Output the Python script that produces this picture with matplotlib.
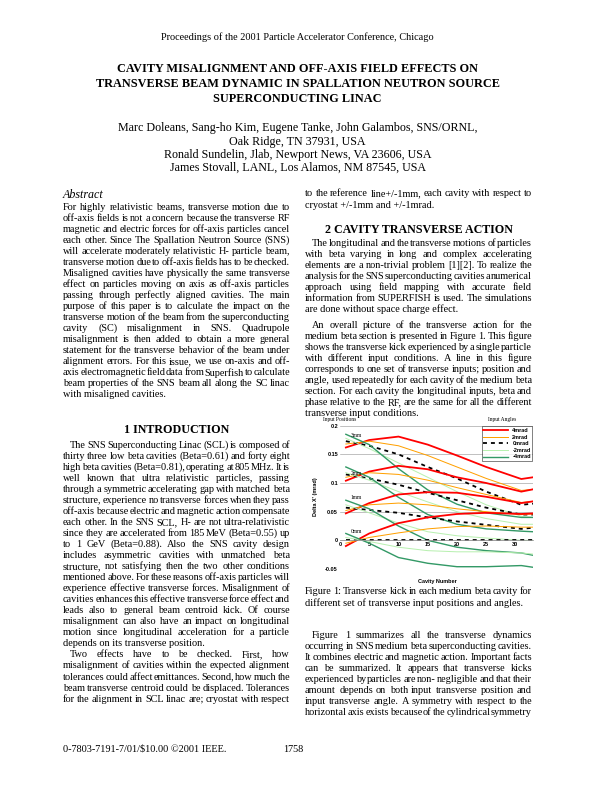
import matplotlib
matplotlib.use("Agg")
import matplotlib.pyplot as plt
from matplotlib.lines import Line2D

W, H = 595, 792
SERIF = "Liberation Serif"
SANS = "Liberation Sans"

# ---- chart data ----
cavity = [1, 5, 10, 15, 20, 25, 31, 33]
angles = ["4mrad", "2mrad", "0mrad", "-2mrad", "-4mrad"]
positions = ["3mm", "2mm", "1mm", "0mm"]

kick_3mm = {
    "4mrad": [0.162, 0.175, 0.181, 0.167, 0.148, 0.128, 0.107, 0.110],
    "2mrad": [0.168, 0.173, 0.165, 0.148, 0.128, 0.108, 0.087, 0.089],
    "0mrad": [0.173, 0.165, 0.150, 0.128, 0.108, 0.085, 0.062, 0.064],
    "-2mrad": [0.178, 0.160, 0.135, 0.110, 0.085, 0.062, 0.042, 0.040],
    "-4mrad": [0.185, 0.167, 0.125, 0.088, 0.063, 0.048, 0.040, 0.040],
}
kick_2mm = {
    "4mrad": [0.104, 0.120, 0.130, 0.124, 0.110, 0.100, 0.085, 0.089],
    "2mrad": [0.110, 0.118, 0.115, 0.105, 0.092, 0.080, 0.066, 0.068],
    "0mrad": [0.115, 0.108, 0.097, 0.083, 0.070, 0.057, 0.045, 0.045],
    "-2mrad": [0.118, 0.105, 0.085, 0.067, 0.050, 0.038, 0.028, 0.028],
    "-4mrad": [0.128, 0.110, 0.075, 0.045, 0.028, 0.020, 0.016, 0.015],
}
kick_1mm = {
    "4mrad": [0.047, 0.065, 0.080, 0.084, 0.083, 0.076, 0.065, 0.068],
    "2mrad": [0.052, 0.062, 0.065, 0.062, 0.055, 0.050, 0.045, 0.046],
    "0mrad": [0.057, 0.053, 0.048, 0.040, 0.033, 0.027, 0.020, 0.022],
    "-2mrad": [0.062, 0.048, 0.030, 0.015, 0.008, 0.004, 0.000, 0.000],
    "-4mrad": [0.070, 0.055, 0.025, 0.000, -0.012, -0.018, -0.022, -0.026],
}
kick_0mm = {
    "4mrad": [-0.010, 0.012, 0.030, 0.040, 0.046, 0.048, 0.046, 0.047],
    "2mrad": [-0.005, 0.005, 0.013, 0.020, 0.024, 0.025, 0.023, 0.023],
    "0mrad": [0.0, 0.0, 0.0, 0.0, 0.0, 0.0, 0.0, 0.0],
    "-2mrad": [0.005, -0.002, -0.012, -0.018, -0.020, -0.020, -0.022, -0.024],
    "-4mrad": [0.012, -0.005, -0.030, -0.040, -0.046, -0.046, -0.044, -0.047],
}
kicks = [kick_3mm, kick_2mm, kick_1mm, kick_0mm]
label_y = [0.183, 0.117, 0.074, 0.015]
yticks = [-0.05, 0, 0.05, 0.1, 0.15, 0.2]
ytick_labels = ["-0.05", "0", "0.05", "0.1", "0.15", "0.2"]

styles = {
    "4mrad": dict(color="#ff0000", lw=1.8),
    "2mrad": dict(color="#ffa000", lw=1.0),
    "0mrad": dict(color="black", lw=1.8, ls=(0, (2.2, 2.2))),
    "-2mrad": dict(color="#b8f0b0", lw=1.0),
    "-4mrad": dict(color="#339966", lw=1.4),
}

# ---- page text ----
header = "Proceedings of the 2001 Particle Accelerator Conference, Chicago"
title = ["CAVITY MISALIGNMENT AND OFF-AXIS FIELD EFFECTS ON",
         "TRANSVERSE BEAM DYNAMIC IN SPALLATION NEUTRON SOURCE",
         "SUPERCONDUCTING LINAC"]
authors = ["Marc Doleans, Sang-ho Kim, Eugene Tanke, John Galambos, SNS/ORNL,",
           "Oak Ridge, TN 37931, USA",
           "Ronald Sundelin, Jlab, Newport News, VA 23606, USA",
           "James Stovall, LANL, Los Alamos, NM 87545, USA"]
abstract = [
    "For highly relativistic beams, transverse motion due to",
    "off-axis fields is not a concern because the transverse RF",
    "magnetic and electric forces for off-axis particles cancel",
    "each other. Since The Spallation Neutron Source (SNS)",
    "will accelerate moderately relativistic H- particle beam,",
    "transverse motion due to off-axis fields has to be checked.",
    "Misaligned cavities have physically the same transverse",
    "effect on particles moving on axis as off-axis particles",
    "passing through perfectly aligned cavities. The main",
    "purpose of this paper is to calculate the impact on the",
    "transverse motion of the beam from the superconducting",
    "cavity (SC) misalignment in SNS. Quadrupole",
    "misalignment is then added to obtain a more general",
    "statement for the transverse behavior of the beam under",
    "alignment errors. For this issue, we use on-axis and off-",
    "axis electromagnetic field data from Superfish to calculate",
    "beam properties of the SNS beam all along the SC linac",
    "with misaligned cavities."]
intro1 = [
    "The SNS Superconducting Linac (SCL) is composed of",
    "thirty three low beta cavities (Beta=0.61) and forty eight",
    "high beta cavities (Beta=0.81), operating at 805 MHz. It is",
    "well known that ultra relativistic particles, passing",
    "through a symmetric accelerating gap with matched beta",
    "structure, experience no transverse forces when they pass",
    "off-axis because electric and magnetic action compensate",
    "each other. In the SNS SCL, H- are not ultra-relativistic",
    "since they are accelerated from 185 MeV (Beta=0.55) up",
    "to 1 GeV (Beta=0.88). Also the SNS cavity design",
    "includes asymmetric cavities with unmatched beta",
    "structure, not satisfying then the two other conditions",
    "mentioned above. For these reasons off-axis particles will",
    "experience effective transverse forces. Misalignment of",
    "cavities enhances this effective transverse force effect and",
    "leads also to general beam centroid kick. Of course",
    "misalignment can also have an impact on longitudinal",
    "motion since longitudinal acceleration for a particle",
    "depends on its transverse position."]
intro2 = [
    "Two effects have to be checked. First, how",
    "misalignment of cavities within the expected alignment",
    "tolerances could affect emittances. Second, how much the",
    "beam transverse centroid could be displaced. Tolerances",
    "for the alignment in SCL linac are; cryostat with respect"]
cont = ["to the reference line+/-1mm, each cavity with respect to",
        "cryostat +/-1mm and +/-1mrad."]
sec2a = [
    "The longitudinal and the transverse motions of particles",
    "with beta varying in long and complex accelerating",
    "elements are a non-trivial problem [1][2]. To realize the",
    "analysis for the SNS superconducting cavities a numerical",
    "approach using field mapping with accurate field",
    "information from SUPERFISH is used. The simulations",
    "are done without space charge effect."]
sec2b = [
    "An overall picture of the transverse action for the",
    "medium beta section is presented in Figure 1. This figure",
    "shows the transverse kick experienced by a single particle",
    "with different input conditions. A line in this figure",
    "corresponds to one set of transverse inputs; position and",
    "angle, used repeatedly for each cavity of the medium beta",
    "section. For each cavity the longitudinal inputs, beta and",
    "phase relative to the RF, are the same for all the different",
    "transverse input conditions."]
caption = ["Figure 1: Transverse kick in each medium beta cavity for",
           "different set of transverse input positions and angles."]
sec2c = [
    "Figure 1 summarizes all the transverse dynamics",
    "occurring in SNS medium beta superconducting cavities.",
    "It combines electric and magnetic action. Important facts",
    "can be summarized. It appears that transverse kicks",
    "experienced by particles are non- negligible and that their",
    "amount depends on both input transverse position and",
    "input transverse angle. A symmetry with respect to the",
    "horizontal axis exists because of the cylindrical symmetry"]

fig = plt.figure(figsize=(W / 72, H / 72), dpi=72)
fig.patch.set_facecolor("white")
renderer = fig.canvas.get_renderer()
FS = 10.2
LS = 11.05


def put(x, y, s, **kw):
    kw.setdefault("family", SERIF)
    kw.setdefault("fontsize", FS)
    kw.setdefault("va", "center")
    return fig.text(x / W, 1 - y / H, s, **kw)


def paragraph(lines, x0, x1, y0, indent=7, last_full=False):
    # justified lines, word by word
    for i, line in enumerate(lines):
        y = y0 + i * LS
        xs = x0 + (indent if i == 0 else 0)
        words = line.split()
        if (i == len(lines) - 1 and not last_full) or len(words) == 1:
            put(xs, y, line)
            continue
        texts = [put(xs, y, w) for w in words]
        widths = [t.get_window_extent(renderer).width for t in texts]
        gap = (x1 - xs - sum(widths)) / (len(words) - 1)
        x = xs
        for t, w in zip(texts, widths):
            t.set_x(x / W)
            x += w + gap


put(297.5, 37, header, ha="center")
for i, s in enumerate(title):
    put(297.5, 69 + i * 15, s, ha="center", fontsize=12.3, weight="bold")
for y, s in zip([128, 142, 155, 168], authors):
    put(297.5, y, s, ha="center", fontsize=12)

L0, L1, R0, R1 = 63, 290, 305, 532
put(L0, 195, "Abstract", fontsize=12, style="italic")
paragraph(abstract, L0, L1, 207, indent=0)
put((L0 + L1) / 2, 430, "1 INTRODUCTION", ha="center", fontsize=12, weight="bold")
paragraph(intro1, L0, L1, 445)
paragraph(intro2, L0, L1, 445 + 19 * LS, last_full=True)
put(L0, 749, "0-7803-7191-7/01/$10.00 \u00a92001 IEEE.")
put(283, 749, "1758")

paragraph(cont, R0, R1, 194, indent=0)
put((R0 + R1) / 2, 230, "2 CAVITY TRANSVERSE ACTION", ha="center", fontsize=12, weight="bold")
paragraph(sec2a, R0, R1, 243)
paragraph(sec2b, R0, R1, 325)
paragraph(caption, R0, R1, 592, indent=0)
paragraph(sec2c, R0, R1, 635, last_full=True)

# ---- the chart ----
ax = fig.add_axes([340 / W, 1 - 569 / H, (533 - 340) / W, (569 - 425.7) / H])
for grp in kicks:
    for a in angles:
        ax.plot(cavity, grp[a], **styles[a])
ax.set_xlim(0, 33)
ax.set_ylim(-0.05, 0.2)
ax.set_yticks(yticks)
ax.set_yticklabels(ytick_labels)
ax.set_xticks([0, 5, 10, 15, 20, 25, 30])
ax.yaxis.grid(True, color="#999999", lw=0.6)
ax.set_axisbelow(True)
for s in ["top", "right", "left"]:
    ax.spines[s].set_visible(False)
ax.spines["bottom"].set_position(("data", 0))
ax.spines["bottom"].set_color("#999999")
ax.tick_params(length=0, labelsize=5.5, pad=2)
for t in ax.get_xticklabels() + ax.get_yticklabels():
    t.set_family(SANS)
    t.set_weight("bold")
for p, yv in zip(positions, label_y):
    ax.text(1.8, yv, p, family=SERIF, fontsize=5.5, va="center")

handles = [Line2D([], [], **styles[a]) for a in angles]
leg = ax.legend(handles, angles, loc="upper right", frameon=True,
                fancybox=False, edgecolor="black", handlelength=4.5,
                borderpad=0.3, labelspacing=0.3, borderaxespad=0.1,
                prop={"family": SANS, "weight": "bold", "size": 5.5})
leg.get_frame().set_linewidth(0.6)

put(340, 420, "Input Positions", fontsize=5.5, ha="center")
put(488, 420, "Input Angles", fontsize=5.5)
put(315, 497, "Delta X' (mrad)", family=SANS, weight="bold", fontsize=5.5,
    rotation=90, ha="center")
put(437, 581, "Cavity Number", family=SANS, weight="bold", fontsize=5.5, ha="center")

fig.savefig("out.png", dpi=72)
